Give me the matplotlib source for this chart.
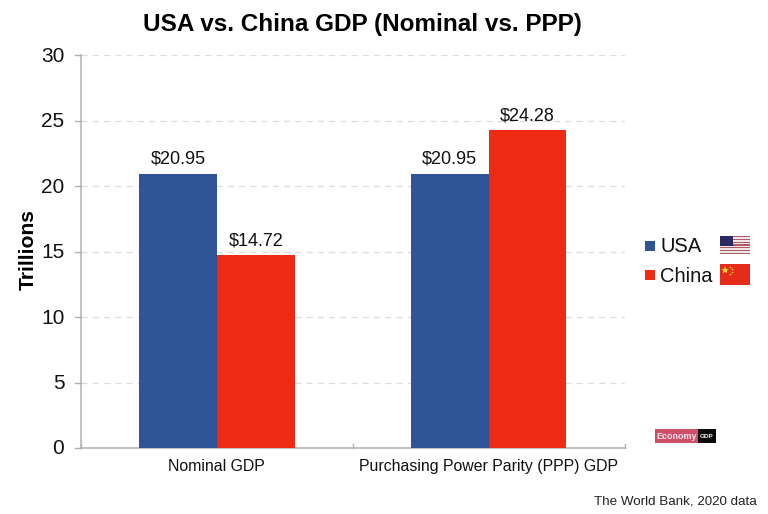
import matplotlib
matplotlib.use("Agg")
import matplotlib.pyplot as plt
from matplotlib.lines import Line2D
from matplotlib.patches import Rectangle
from matplotlib.transforms import ScaledTranslation

plt.rcParams['font.family'] = ['Liberation Sans', 'DejaVu Sans']

categories = ["Nominal GDP", "Purchasing Power Parity (PPP) GDP"]
usa_values = [20.95, 20.95]
china_values = [14.72, 24.28]
y_ticks = [0, 5, 10, 15, 20, 25, 30]

USA_BLUE = "#2F5597"
CHINA_RED = "#EE2A14"
W, H = 768, 514

fig = plt.figure(figsize=(W / 100, H / 100), dpi=100)
ax = fig.add_axes([81 / W, 1 - 448 / H, 543.5 / W, 393 / H])


def box(px0, py0, px1, py1, **kw):
    """Add a rectangle to the figure, given in pixels from the top left."""
    fig.add_artist(Rectangle((px0 / W, 1 - py1 / H), (px1 - px0) / W, (py1 - py0) / H,
                             transform=fig.transFigure, linewidth=0, **kw))


def star(px, py, size):
    """Add a yellow five-pointed star to the figure, centred on a pixel position."""
    fig.add_artist(Line2D([px / W], [1 - py / H], marker="*", markersize=size, color="#F5D327",
                          markeredgewidth=0, linestyle="none", transform=fig.transFigure))


width = 0.286
for i, (u, c) in enumerate(zip(usa_values, china_values)):
    ax.bar(i - width / 2, u, width, color=USA_BLUE, zorder=3)
    ax.bar(i + width / 2, c, width, color=CHINA_RED, zorder=3)
    ax.text(i - width / 2, u + 0.48, f"${u:.2f}", ha="center", va="bottom", fontsize=13, color="#111111")
    ax.text(i + width / 2, c + 0.42, f"${c:.2f}", ha="center", va="bottom", fontsize=13, color="#111111")

ax.set_xlim(-0.5, 1.5)
ax.set_ylim(0, 30)
ax.set_yticks(y_ticks)
ax.set_xticks([0, 1], categories)
ax.tick_params(axis="y", labelsize=15, length=0, pad=12, labelcolor="#111111")
ax.tick_params(axis="x", labelsize=11.4, length=0, pad=16.5, labelcolor="#111111")
for label in ax.get_xticklabels():
    label.set_verticalalignment("baseline")
nudge = ScaledTranslation(0, -1 / 100, fig.dpi_scale_trans)
for label in ax.get_yticklabels():
    label.set_verticalalignment("center")
    label.set_transform(label.get_transform() + nudge)
ax.yaxis.grid(True, color="#DDDDDD", linestyle=(0, (5, 4)), linewidth=0.9, zorder=0)
ax.set_axisbelow(True)
for side in ("top", "right"):
    ax.spines[side].set_visible(False)
for side in ("left", "bottom"):
    ax.spines[side].set_color("#B0B0B0")
    ax.spines[side].set_linewidth(1.1)

# Short tick stubs on the value axis, and separators along the category axis
for t in y_ticks:
    ax.plot([-0.011, 0], [t, t], transform=ax.get_yaxis_transform(), color="#B0B0B0", lw=1, clip_on=False)
for x in (-0.5, 0.5, 1.5):
    ax.plot([x, x], [0, 0.011], transform=ax.get_xaxis_transform(), color="#B0B0B0", lw=1, clip_on=False)

fig.text(362 / W, 1 - 24 / H, "USA vs. China GDP (Nominal vs. PPP)", ha="center", va="center",
         fontsize=17.5, fontweight="bold", color="#000000")
fig.text(28.5 / W, 1 - 250 / H, "Trillions", rotation=90, ha="center", va="center",
         fontsize=15.2, fontweight="bold", color="#000000")
fig.text(757 / W, 1 - 502 / H, "The World Bank, 2020 data", ha="right", va="center", fontsize=9.6, color="#222222")

# Legend entries
box(645, 241, 655, 251, color=USA_BLUE)
box(645, 270, 655, 280, color=CHINA_RED)
fig.text(660 / W, 1 - 246.5 / H, "USA", ha="left", va="center", fontsize=14.5, color="#111111")
fig.text(660 / W, 1 - 276.5 / H, "China", ha="left", va="center", fontsize=14.5, color="#111111")

# US flag
box(720, 236, 750, 254, color="#EFE6E6")
for s in range(7):
    y0 = 236 + s * 18 / 6.5
    box(720, y0, 750, y0 + 18 / 13, color="#B05A68")
box(720, 236, 733, 245.5, color="#2A2A60")

# Chinese flag
box(720, 264, 750, 285, color="#E52B1A")
star(725, 269.5, 6)
for cx, cy in [(730, 266.5), (732, 269), (732, 272), (730, 274)]:
    star(cx, cy, 2)

# Site badge
box(655, 429, 698, 443, color="#D0506C")
box(698, 429, 716, 443, color="#0A0A0A")
fig.text(676.5 / W, 1 - 436.3 / H, "Economy", ha="center", va="center", fontsize=6.4, fontweight="bold", color="#F5E6EA")
fig.text(707 / W, 1 - 436.3 / H, "GDP", ha="center", va="center", fontsize=4.6, fontweight="bold", color="#EEEEEE")

fig.savefig("out.png", dpi=100)
